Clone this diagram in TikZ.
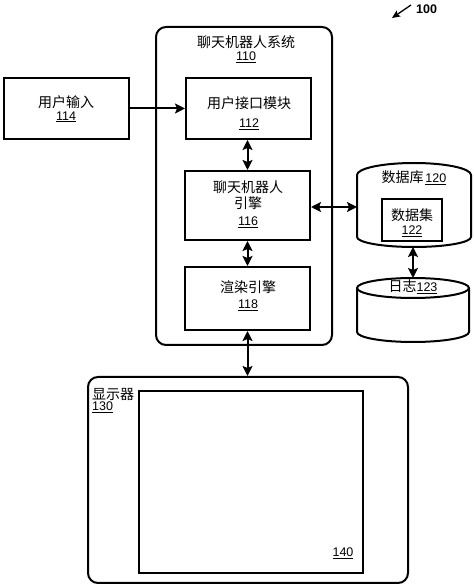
\documentclass[tikz,border=0pt]{standalone}
\usepackage{fontspec}
\setmainfont{Liberation Sans}
\newfontfamily\cjk{Noto Sans CJK SC}
\usetikzlibrary{arrows.meta}
\newcommand{\zh}[1]{{\cjk\fontsize{14}{16}\selectfont #1}}
\newcommand{\num}[1]{{\fontsize{12.5}{14}\selectfont\underline{#1}}}
\begin{document}
\begin{tikzpicture}[x=1pt,y=1pt,
  box/.style={draw,line width=2pt,inner sep=0pt},
  lab/.style={inner sep=0pt,anchor=center},
  conn/.style={line width=2pt,-{Stealth[length=10pt,width=10pt,inset=2pt]}},
  dconn/.style={line width=2pt,{Stealth[length=10pt,width=10pt,inset=2pt]}-{Stealth[length=10pt,width=10pt,inset=2pt]}}]
\useasboundingbox (0,0) rectangle (474,587);
% system box
\node[box,rounded corners=10pt,minimum width=176pt,minimum height=318pt] (sys) at (244,401) {};
\node[lab] (sysA) at (246,545) {\zh{聊天机器人系统}};
\node[lab] (sysB) at (246,530) {\num{110}};
% user input
\node[box,minimum width=125pt,minimum height=61pt] (in) at (66.5,478.5) {};
\node[lab] (inA) at (66,485) {\zh{用户输入}};
\node[lab] (inB) at (66,470) {\num{114}};
% UI module
\node[box,minimum width=125pt,minimum height=61pt] (ui) at (248.5,478.5) {};
\node[lab] (uiA) at (249,484) {\zh{用户接口模块}};
\node[lab] (uiB) at (249,463) {\num{112}};
% engine
\node[box,minimum width=125pt,minimum height=69pt] (eng) at (247.5,381.5) {};
\node[lab] (engA) at (248,400) {\zh{聊天机器人}};
\node[lab] (engB) at (248,384) {\zh{引擎}};
\node[lab] (engC) at (248,365) {\num{116}};
% render engine
\node[box,minimum width=125pt,minimum height=63pt] (ren) at (247.5,288.5) {};
\node[lab] (renA) at (248,300) {\zh{渲染引擎}};
\node[lab] (renB) at (248,282) {\num{118}};
% database cylinder
\draw[line width=2pt] (357,412) arc[start angle=180,end angle=0,x radius=57,y radius=12]
  -- (471,350) arc[start angle=0,end angle=-180,x radius=57,y radius=10] -- cycle;
\coordinate (dbW) at (357,380);
\coordinate (dbS) at (413,340);
\node[lab] (dbA) at (414,409) {\zh{数据库}\,\num{120}};
% dataset
\node[box,minimum width=60pt,minimum height=42pt] (ds) at (412,367) {};
\node[lab] (dsA) at (412,372) {\zh{数据集}};
\node[lab] (dsB) at (412,356) {\num{122}};
% log cylinder
\draw[line width=2pt] (357,299) arc[start angle=180,end angle=0,x radius=56,y radius=10]
  -- (469,255) arc[start angle=0,end angle=-180,x radius=56,y radius=10] -- cycle;
\draw[line width=2pt] (357,299) arc[start angle=180,end angle=360,x radius=56,y radius=10];
\coordinate (logN) at (413,309);
\node[lab] (logA) at (413,300) {\zh{日志}\num{123}};
% display
\node[box,rounded corners=10pt,minimum width=320pt,minimum height=206pt] (disp) at (248,107) {};
\node[lab,anchor=west] (dispA) at (92,193) {\zh{显示器}};
\node[lab,anchor=west] (dispB) at (92,180) {\num{130}};
\node[box,minimum width=224pt,minimum height=182pt] (scr) at (251,105) {};
\node[lab] (scrA) at (343,34) {\num{140}};
% 100
\node[lab,anchor=west] (ref) at (416,578) {\fontsize{12.5}{14}\selectfont\bfseries 100};
\coordinate (refT) at (392,569);
\draw[line width=1.3pt,-{Stealth[length=8pt,width=7pt,inset=1.5pt]}] (411,582) -- (refT);
% connectors
\draw[conn] (in.east) -- (ui.west);
\draw[dconn] (ui.south -| eng.north) -- (eng.north);
\draw[dconn] (eng.south) -- (ren.north);
\draw[dconn] (eng.east |- dbW) -- (dbW);
\draw[dconn] (dbS) -- (logN);
\draw[dconn] (ren.south) -- (ren.south |- disp.north);
\end{tikzpicture}
\end{document}
